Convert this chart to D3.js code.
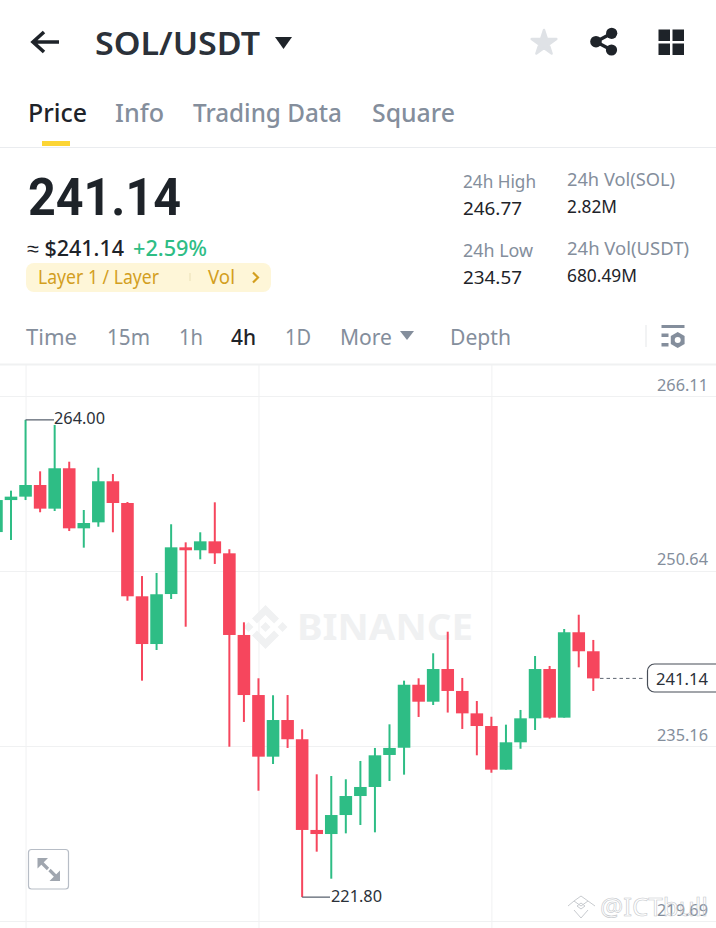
<!DOCTYPE html>
<html><head><meta charset="utf-8">
<script src="https://cdn.jsdelivr.net/npm/d3@7"></script>
<style>html,body{margin:0;padding:0;background:#fff;overflow:hidden}svg{display:block}text{font-family:"Noto Sans",sans-serif}</style>
</head><body><svg id="c" width="716" height="928"></svg>
<script>
const opens =[254.08,256.91,257.21,258.24,256.15,259.72,254.41,254.94,258.57,256.65,248.40,244.18,248.60,252.73,252.47,253.26,252.20,244.98,239.67,234.22,237.46,235.76,227.74,227.38,229.06,230.74,231.54,234.37,235.01,240.58,239.08,241.97,240.03,238.05,236.93,233.07,235.49,237.61,241.97,237.67,245.22,243.54];
const closes=[256.91,257.21,258.24,256.15,259.72,254.41,254.88,258.57,256.65,248.40,244.18,248.58,252.73,252.47,253.26,252.20,244.98,239.67,234.22,237.46,235.76,227.74,227.38,229.06,230.74,231.54,234.34,234.99,240.58,239.08,241.97,240.03,238.05,236.93,233.07,235.49,237.61,241.97,237.67,245.22,243.54,241.14];
const highs =[256.91,257.74,264.00,259.45,263.55,260.30,256.03,259.77,259.21,256.74,250.19,250.46,254.77,253.17,254.06,256.71,252.56,246.10,241.15,239.65,239.67,236.64,232.66,232.51,232.22,233.84,234.99,237.08,240.94,241.15,243.36,245.27,241.18,239.14,237.75,237.05,238.35,243.12,242.24,245.51,246.77,244.54];
const lows  =[254.08,253.38,256.91,255.83,255.94,254.17,252.70,254.55,254.06,248.01,240.94,243.65,248.16,245.71,251.67,251.26,235.10,237.29,231.21,233.57,234.99,221.80,225.82,223.43,227.44,228.18,227.53,232.07,232.63,237.73,238.79,238.12,236.67,234.34,232.80,233.07,234.92,236.58,237.58,237.67,242.12,240.03];
const priceTicks=[266.11,250.64,235.16,219.69];
const timeTickIdx=[2,18,34];
const tabs=["Price","Info","Trading Data","Square"];
const intervals=["Time","15m","1h","4h","1D","More","Depth"];

const svg=d3.select("#c");
const x=d3.scaleLinear().domain([0,41]).range([-3.56,593.3]);
const y=d3.scaleLinear().domain([266.11,219.69]).range([396,921]);
const DARK="#1e2329",GREY="#848e9c",UP="#2ebd85",DOWN="#f6465d",GRID="#f0f1f2";

function T(s,xp,yp,size,fill,w,len,weight,fam){
  const t=svg.append("text").attr("x",xp).attr("y",yp).attr("font-size",size).attr("fill",fill).text(s);
  if(len){t.attr("textLength",len).attr("lengthAdjust","spacingAndGlyphs");}
  if(weight)t.attr("font-weight",weight);
  if(fam)t.style("font-family",fam);
  return t;
}
// header
svg.append("path").attr("d","M59 42H33M44 32L33 42L44 52").attr("fill","none").attr("stroke",DARK).attr("stroke-width",3.6);
T("SOL/USDT",95,55,33,"#2b3139",0,165,600);
svg.append("path").attr("d","M275 37H292L283.5 49Z").attr("fill",DARK);
svg.append("path").attr("d",d3.symbol(d3.symbolStar,190)()).attr("transform","translate(544,43)").attr("fill","#dfe2e6").attr("stroke","#dfe2e6").attr("stroke-width",2.4).attr("stroke-linejoin","round");
svg.append("path").attr("d","M611.7 33.3L596 41.7L611.5 50").attr("fill","none").attr("stroke",DARK).attr("stroke-width",3.4);
[[611.7,33.3,5.6],[596,41.7,5.8],[611.5,50,5.6]].forEach(c=>svg.append("circle").attr("cx",c[0]).attr("cy",c[1]).attr("r",c[2]).attr("fill",DARK));
[[658.5,29.5],[672.5,29.5],[658.5,43.5],[672.5,43.5]].forEach(c=>svg.append("rect").attr("x",c[0]).attr("y",c[1]).attr("width",11.5).attr("height",11.5).attr("fill",DARK));
// tabs
const tabX=[[28,59],[115,49],[193,149],[372,83]];
tabs.forEach((s,i)=>T(s,tabX[i][0],122,25,i?GREY:DARK,0,tabX[i][1],500));
svg.append("rect").attr("x",42).attr("y",141).attr("width",28).attr("height",5).attr("fill","#fcd535");
svg.append("rect").attr("x",0).attr("y",147).attr("width",716).attr("height",1).attr("fill","#eaecef");
// price block
T("241.14",28,215,52,DARK,0,153,700,"Roboto");
T("≈ $241.14",27,256,21,DARK,0,97,500);
T("+2.59%",133,256,21,UP,0,74,500);
svg.append("rect").attr("x",26).attr("y",263).attr("width",245).attr("height",29).attr("rx",8).attr("fill","#fef6d8");
T("Layer 1 / Layer",38,284,19,"#d39f1f",0,121);
svg.append("rect").attr("x",189.5).attr("y",273).attr("width",1).attr("height",8).attr("fill","#eadfb5");
T("Vol",208,284,19,"#d39f1f",0,27);
svg.append("path").attr("d","M253 272.5L258 277.5L253 282.5").attr("fill","none").attr("stroke","#d39f1f").attr("stroke-width",2.2);
T("24h High",463,188,18,GREY,0,73);
T("246.77",463,215,18,DARK,0,59);
T("24h Low",463,257,18,GREY,0,70);
T("234.57",463,284,18,DARK,0,59);
T("24h Vol(SOL)",567,186,18,GREY,0,108);
T("2.82M",567,213,18,DARK,0,50);
T("24h Vol(USDT)",567,255,18,GREY,0,122);
T("680.49M",567,282,18,DARK,0,70);
// interval bar
const intX=[[26,51],[107,43],[179,24],[231,25],[285,26],[340,52],[450,61]];
intervals.forEach((s,i)=>T(s,intX[i][0],345,22,s==="4h"?DARK:GREY,0,intX[i][1],s==="4h"?500:400));
svg.append("path").attr("d","M400 331H414L407 340Z").attr("fill",GREY);
svg.append("rect").attr("x",645.5).attr("y",325).attr("width",1).attr("height",22).attr("fill","#e6e8ea");
svg.append("rect").attr("x",661.5).attr("y",325).attr("width",23).attr("height",3).attr("fill",GREY);
svg.append("rect").attr("x",661.5).attr("y",333.5).attr("width",7).attr("height",3.5).attr("fill",GREY);
svg.append("rect").attr("x",661.5).attr("y",343).attr("width",7).attr("height",3.5).attr("fill",GREY);
svg.append("path").attr("d","M677.7 332L684.6 336V344L677.7 348L670.8 344V336Z").attr("fill",GREY);
svg.append("circle").attr("cx",677.7).attr("cy",340).attr("r",3).attr("fill","#fff");
svg.append("rect").attr("x",0).attr("y",363.5).attr("width",716).attr("height",2).attr("fill",GRID);

// watermark logo + word
const LOGO="M38.73 53.2l24.59-24.58 24.6 24.6 14.3-14.31L63.32 0 24.42 38.9zM0 63.31l14.3-14.31 14.31 14.31-14.31 14.3zM38.73 73.41L63.32 98l24.6-24.6 14.31 14.29-38.9 38.91-38.91-38.88-.02-.02zM98 63.31l14.3-14.31 14.31 14.3-14.31 14.32zM77.83 63.3L63.32 48.78 52.59 59.51l-1.24 1.23-2.54 2.54 14.51 14.5 14.51-14.47z";
svg.append("path").attr("d",LOGO).attr("transform","translate(243.5,605) scale(0.3475)").attr("fill","#f0f1f2");
T("BINANCE",297,640,36,"#f0f1f2",0,176,700);

// grid + axes
const gy=svg.append("g").attr("transform","translate(716,0)")
  .call(d3.axisLeft(y).tickValues(priceTicks).tickSize(716).tickFormat(d3.format(".2f")));
gy.select(".domain").remove();
gy.selectAll("line").attr("stroke",GRID).attr("stroke-width",1);
gy.selectAll("text").attr("x",-59).attr("dy",0).attr("y",-6).attr("text-anchor","start")
  .attr("font-size",17).attr("fill",GREY).style("font-family","'Noto Sans',sans-serif")
  .attr("textLength",51).attr("lengthAdjust","spacingAndGlyphs");
const gx=svg.append("g").attr("transform","translate(0,365)")
  .call(d3.axisBottom(x).tickValues(timeTickIdx).tickSize(563).tickFormat(""));
gx.select(".domain").remove();
gx.selectAll("line").attr("stroke",GRID).attr("stroke-width",1);

// candles
const data=opens.map((o,i)=>({i,o,c:closes[i],h:highs[i],l:lows[i]}));
const col=d=>d.c>=d.o?UP:DOWN;
const bw=12.6;
const gc=svg.append("g");
gc.selectAll("line").data(data).join("line")
  .attr("x1",d=>x(d.i)).attr("x2",d=>x(d.i)).attr("y1",d=>y(d.h)).attr("y2",d=>y(d.l))
  .attr("stroke",col).attr("stroke-width",2);
gc.selectAll("rect").data(data).join("rect")
  .attr("x",d=>x(d.i)-bw/2).attr("width",bw)
  .attr("y",d=>y(Math.max(d.o,d.c))).attr("height",d=>Math.max(2,Math.abs(y(d.o)-y(d.c))))
  .attr("fill",col);

// high / low markers
const hiI=d3.maxIndex(highs),loI=d3.minIndex(lows);
const mk="#5e6673";
svg.append("line").attr("x1",x(hiI)).attr("x2",54).attr("y1",y(highs[hiI])).attr("y2",y(highs[hiI])).attr("stroke",mk).attr("stroke-width",1.3);
svg.append("line").attr("x1",x(loI)).attr("x2",330).attr("y1",y(lows[loI])).attr("y2",y(lows[loI])).attr("stroke",mk).attr("stroke-width",1.3);
T(highs[hiI].toFixed(2),54,424,16.5,"#2b3139",0,51);
T(lows[loI].toFixed(2),331,902,16.5,"#2b3139",0,51);

// last price
const last=closes[closes.length-1];
svg.append("line").attr("x1",600).attr("x2",643).attr("y1",y(last)).attr("y2",y(last)).attr("stroke","#5e6673").attr("stroke-width",1).attr("stroke-dasharray","3.5 3");
svg.append("rect").attr("x",647.5).attr("y",664).attr("width",80).attr("height",28).attr("rx",7).attr("fill","#fff").attr("stroke","#474d57").attr("stroke-width",1.2);
T(last.toFixed(2),656,685,17,"#2b3139",0,52);

// expand button
svg.append("rect").attr("x",28.5).attr("y",849.5).attr("width",40).attr("height",39.5).attr("rx",3).attr("fill","#fff").attr("stroke","#b7bdc6").attr("stroke-width",1.2);
svg.append("path").attr("d","M37.5 858H48L37.5 868.5ZM60 881H49.5L60 870.5Z").attr("fill","#a0a6af");
svg.append("path").attr("d","M41 862L48 869M56.5 877L49.5 870").attr("stroke","#a0a6af").attr("stroke-width",3.2);

// image watermark
const ic=svg.append("g").attr("fill","none").attr("stroke","#c8cbcf").attr("stroke-width",1);
ic.append("path").attr("d","M568 906L574 901L581 906L588 901L595 906M574 901L581 896L588 901M574 910L581 918L588 910M577 906L581 903L585 906L581 909Z");
T("@ICTbull",600,916,26,"none",0,108).attr("stroke","#c6c9cd").attr("stroke-width",.6);
</script></body></html>
